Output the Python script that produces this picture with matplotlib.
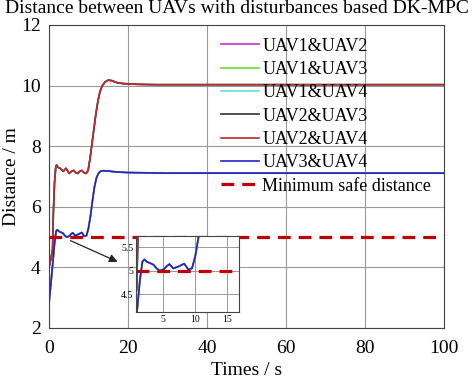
import matplotlib
matplotlib.use("Agg")
import matplotlib.pyplot as plt

plt.rcParams['font.family'] = ['Liberation Serif', 'DejaVu Serif']

# distance between UAV3 and UAV4 (blue)
t_34 = [0, 0.5, 1.0, 1.4, 1.8, 2.1, 2.5, 3.0, 3.5, 4.0, 4.5, 5.1, 5.6, 6.0, 6.6,
        7.4, 8.3, 8.9, 9.5, 10.0, 10.5, 11.0, 11.5, 12.0, 12.5, 13.0, 13.8,
        15.0, 17.0, 20.0, 25.0, 30.0, 100.0]
d_34 = [2.8, 3.5, 4.2, 4.8, 5.2, 5.24, 5.19, 5.16, 5.13, 5.05, 5.0, 5.03, 5.10,
        5.14, 5.05, 5.09, 5.15, 5.03, 5.05, 5.3, 5.7, 6.2, 6.65, 6.95, 7.1,
        7.17, 7.19, 7.18, 7.15, 7.13, 7.12, 7.11, 7.11]

# distance between UAV2 and UAV4 (red)
t_24 = [0, 0.5, 0.9, 1.1, 1.4, 1.7, 1.9, 2.3, 2.8, 3.6, 4.3, 5.1, 5.7, 6.3, 6.8,
        7.3, 7.8, 8.3, 8.9, 9.4, 9.9, 10.4, 10.9, 11.4, 11.9, 12.4, 12.9, 13.5,
        14.2, 15.0, 16.0, 17.1, 18.5, 20.6, 23.0, 27.0, 35.0, 100.0]
d_24 = [4.0, 4.3, 4.6, 5.8, 6.8, 7.3, 7.38, 7.3, 7.27, 7.17, 7.27, 7.1, 7.17,
        7.2, 7.12, 7.1, 7.17, 7.2, 7.12, 7.1, 7.2, 7.6, 8.1, 8.6, 9.1, 9.5,
        9.8, 10.0, 10.12, 10.18, 10.16, 10.1, 10.07, 10.05, 10.04, 10.03,
        10.03, 10.03]

safe_dist = 5.0
labels = ["UAV1&UAV2", "UAV1&UAV3", "UAV1&UAV4", "UAV2&UAV3", "UAV2&UAV4", "UAV3&UAV4"]
colors = ["#CC33CC", "#66DD33", "#66DDDD", "#333333", "#C0282B", "#2222CC"]
# the first four pairs lie under the visible curves
series = [(t_34, d_34), (t_34, d_34), (t_24, d_24), (t_24, d_24), (t_24, d_24), (t_34, d_34)]


def draw(ax, lw=1.2):
    for (t, d), c, lab in zip(series, colors, labels):
        ax.plot(t, d, color=c, lw=lw, label=lab)
    ax.axhline(safe_dist, color="#C00000", lw=2.3, ls=(0, (4, 2.5)),
               label="Minimum safe distance")


fig = plt.figure(figsize=(4.74, 3.78), dpi=100)
ax = fig.add_axes([0.1034, 0.1323, 0.8333, 0.8016])
draw(ax)
ax.set_xlim(0, 100)
ax.set_ylim(2, 12)
ax.set_xticks(range(0, 101, 20))
ax.set_yticks(range(2, 13, 2))
ax.grid(True, color="#999999", lw=0.8)
ax.tick_params(labelsize=14, length=0)
ax.tick_params(axis="x", pad=9)
ax.tick_params(axis="y", pad=6)
for s in ax.spines.values():
    s.set_color("#444444")
ax.set_xlabel("Times / s", fontsize=14, labelpad=3)
ax.set_ylabel("Distance / m", fontsize=14, labelpad=1)
fig.suptitle("Distance between UAVs with disturbances based DK-MPC",
             fontsize=14, x=0.5, y=1.0)
ax.legend(loc="upper right", frameon=False, fontsize=13, handlelength=2.1,
          labelspacing=0.35, handletextpad=0.2, borderaxespad=0.3)

ax.annotate("", xy=(18, 4.15), xytext=(4.8, 4.92),
            arrowprops=dict(arrowstyle="-|>", color="#222222", lw=0.9,
                            mutation_scale=12))

ins = fig.add_axes([0.287, 0.1746, 0.217, 0.201])
draw(ins)
ins.set_xlim(0.8, 16.8)
ins.set_ylim(4.12, 5.74)
ins.set_xticks([5, 10, 15])
ins.set_yticks([4.5, 5, 5.5])
ins.set_yticklabels(["4.5", "5", "5.5"])
ins.grid(True, color="#999999", lw=0.7)
ins.tick_params(labelsize=7, length=0, pad=2)
for s in ins.spines.values():
    s.set_color("#444444")

fig.savefig("out.png", dpi=100)
